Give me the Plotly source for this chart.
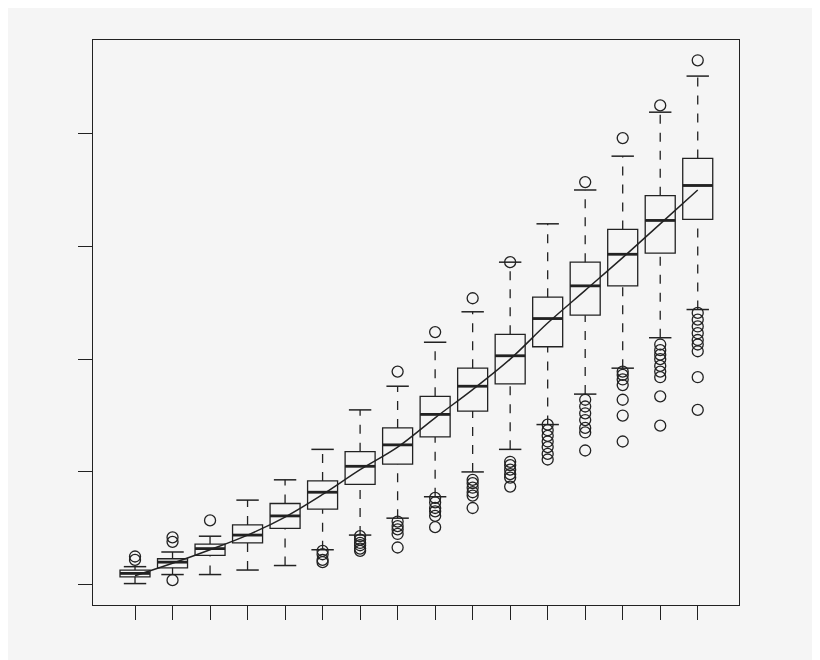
import plotly.graph_objects as go

# groups 1..16, values in y-axis units (ticks at 0..4, unlabeled)
groups = list(range(1, 17))
upper = [0.16, 0.29, 0.43, 0.75, 0.93, 1.20, 1.55, 1.76, 2.15, 2.42, 2.86, 3.20, 3.50, 3.80, 4.19, 4.51]
q3 = [0.13, 0.23, 0.36, 0.53, 0.72, 0.92, 1.18, 1.39, 1.67, 1.92, 2.22, 2.55, 2.86, 3.15, 3.45, 3.78]
median = [0.10, 0.20, 0.32, 0.44, 0.61, 0.82, 1.05, 1.24, 1.51, 1.76, 2.03, 2.36, 2.65, 2.93, 3.23, 3.54]
q1 = [0.07, 0.15, 0.26, 0.37, 0.50, 0.67, 0.89, 1.07, 1.31, 1.54, 1.78, 2.11, 2.39, 2.65, 2.94, 3.24]
lower = [0.01, 0.09, 0.09, 0.13, 0.17, 0.31, 0.44, 0.59, 0.78, 1.00, 1.20, 1.42, 1.69, 1.92, 2.19, 2.44]
outliers = {
    1: [0.25, 0.22],
    2: [0.42, 0.38, 0.04],
    3: [0.57],
    6: [0.30, 0.27, 0.22, 0.20],
    7: [0.43, 0.40, 0.37, 0.35, 0.32, 0.30],
    8: [1.89, 0.56, 0.52, 0.49, 0.45, 0.33],
    9: [2.24, 0.77, 0.73, 0.68, 0.65, 0.61, 0.51],
    10: [2.54, 0.93, 0.90, 0.86, 0.82, 0.79, 0.68],
    11: [2.86, 1.09, 1.06, 1.02, 0.98, 0.95, 0.87],
    12: [1.42, 1.37, 1.32, 1.27, 1.22, 1.16, 1.11],
    13: [3.57, 1.64, 1.58, 1.52, 1.46, 1.39, 1.35, 1.19],
    14: [3.96, 1.89, 1.86, 1.82, 1.77, 1.64, 1.50, 1.27],
    15: [4.25, 2.13, 2.08, 2.04, 2.00, 1.94, 1.89, 1.84, 1.67, 1.41],
    16: [4.65, 2.41, 2.35, 2.29, 2.23, 2.17, 2.13, 2.07, 1.84, 1.55],
}
trend = [0.08, 0.19, 0.31, 0.44, 0.60, 0.80, 1.02, 1.22, 1.48, 1.73, 2.00, 2.32, 2.61, 2.90, 3.20, 3.50]

ink = "#222222"
fig = go.Figure()

# dashed whiskers + caps
wx, wy = [], []
for g, lo, a, b, hi in zip(groups, lower, q1, q3, upper):
    wx += [g, g, None, g, g, None]
    wy += [lo, a, None, b, hi, None]
fig.add_trace(go.Scatter(x=wx, y=wy, mode="lines", line=dict(color=ink, width=1.3, dash="dash"),
                         hoverinfo="skip"))
fig.add_trace(go.Scatter(x=groups + groups, y=upper + lower, mode="markers",
                         marker=dict(symbol="line-ew", size=16, line=dict(color=ink, width=1.5)),
                         hoverinfo="skip"))

fig.add_trace(go.Box(x=groups, q1=q1, median=median, q3=q3, lowerfence=q1, upperfence=q3,
                     width=0.8, fillcolor="rgba(0,0,0,0)", line=dict(color=ink, width=1.3),
                     boxpoints=False))
# thicker median
mx, my = [], []
for g, m in zip(groups, median):
    mx += [g - 0.4, g + 0.4, None]
    my += [m, m, None]
fig.add_trace(go.Scatter(x=mx, y=my, mode="lines", line=dict(color=ink, width=2.8), hoverinfo="skip"))

ox, oy = [], []
for g, vals in outliers.items():
    ox += [g] * len(vals)
    oy += vals
fig.add_trace(go.Scatter(x=ox, y=oy, mode="markers",
                         marker=dict(symbol="circle-open", size=11, color=ink, line=dict(width=1.3))))

fig.add_trace(go.Scatter(x=groups, y=trend, mode="lines", line=dict(color=ink, width=1.5, shape="spline")))

axis = dict(showgrid=False, zeroline=False, showline=True, linecolor=ink, linewidth=1.3, mirror=True,
            ticks="outside", ticklen=14, tickcolor=ink, tickwidth=1.3, showticklabels=False)
fig.update_xaxes(range=[-0.12, 17.1], tickvals=groups, **axis)
fig.update_yaxes(range=[-0.18, 4.83], tickvals=[0, 1, 2, 3, 4], **axis)
fig.update_layout(width=812, height=652, showlegend=False,
                  paper_bgcolor="#f5f5f5", plot_bgcolor="#f5f5f5",
                  margin=dict(l=85, r=81, t=32, b=55))
fig.write_html("out.html")
